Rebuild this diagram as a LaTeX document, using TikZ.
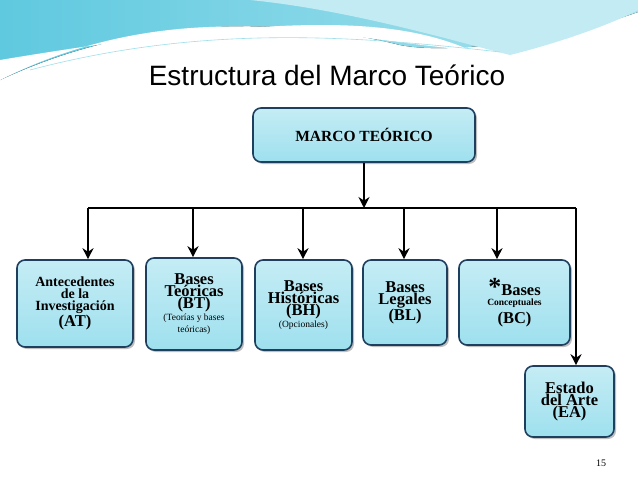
\documentclass[tikz,border=0pt]{standalone}
\usepackage{fontspec}
\setmainfont{Liberation Serif}
\newfontfamily\titlefont{Liberation Sans}
\usetikzlibrary{arrows.meta,shadows}
\definecolor{bd}{HTML}{1F3F5F}
\definecolor{fillc}{HTML}{9EE0EE}
\definecolor{wave1}{HTML}{5FC9DF}
\definecolor{wave2}{HTML}{A9E3EE}
\newcommand{\fA}{\fontsize{14}{16}\selectfont}
\newcommand{\fB}{\fontsize{16.5}{18}\selectfont}
\newcommand{\fC}{\fontsize{9.5}{10}\selectfont\mdseries}
\tikzset{
  box/.style={draw=bd,line width=1.6pt,rounded corners=8pt,top color=white!40!fillc,bottom color=fillc,
    drop shadow={shadow xshift=2pt,shadow yshift=-2pt,opacity=0.5},align=center,font=\bfseries,inner sep=2pt},
  conn/.style={line width=1.6pt,-{Stealth[length=11pt,width=11pt]}},
  ln/.style={line width=1.6pt}
}
\begin{document}
\begin{tikzpicture}[x=1pt,y=-1pt]
\useasboundingbox (0,0) rectangle (638,479);
\fill[white] (0,0) rectangle (638,479);
% header waves
\fill[left color=wave1,right color=wave2] (0,0) -- (638,0) -- (638,12) .. controls (560,40) and (450,55) .. (400,45) .. controls (300,20) and (150,10) .. (0,80) -- cycle;
\fill[white] (0,80) .. controls (100,30) and (200,20) .. (300,30) .. controls (360,36) and (420,46) .. (470,50) .. controls (400,20) and (300,10) .. (0,60) -- cycle;
\fill[wave2!70!white] (250,0) .. controls (350,10) and (450,40) .. (510,55) .. controls (570,40) and (620,20) .. (638,10) -- (638,0) -- cycle;
\draw[wave1!60!white,line width=0.6pt] (30,70) .. controls (200,25) and (350,35) .. (500,52);
\node[font=\titlefont\fontsize{28}{30}\selectfont] (title) at (327,75) {Estructura del Marco Teórico};
\node[box,minimum width=222pt,minimum height=54pt,font=\bfseries\fontsize{15.5}{17}\selectfont] (mt) at (364,135) {MARCO TEÓRICO};
\node[box,minimum width=116pt,minimum height=87pt] (at) at (75,303.5) {\fA Antecedentes\\\fA de la\\\fA Investigación\\\fB (AT)};
\node[box,minimum width=96pt,minimum height=92pt] (bt) at (194,304) {\fB Bases\\\fB Teóricas\\\fB (BT)\\\fC (Teorías y bases\\\fC teóricas)};
\node[box,minimum width=97pt,minimum height=90pt] (bh) at (303.5,305) {\fB Bases\\\fB Históricas\\\fB (BH)\\\fC (Opcionales)};
\node[box,minimum width=84pt,minimum height=85pt] (bl) at (405,302.5) {\fB Bases\\\fB Legales\\\fB (BL)};
\node[box,minimum width=111pt,minimum height=85pt] (bc) at (514.5,302.5) {\fB{\fontsize{26}{20}\selectfont *}Bases\\[-2pt]\fC\bfseries Conceptuales\\[3pt]\fB (BC)};
\node[box,minimum width=89pt,minimum height=71pt] (ea) at (569.5,401.5) {\fB Estado\\\fB del Arte\\\fB (EA)};
\node[font=\fontsize{10}{12}\selectfont] (pg) at (601,463) {15};
\coordinate (jm) at (364,208);
\coordinate (jl) at (88,208);
\coordinate (jr) at (576,208);
\draw[conn] (mt) -- (jm);
\draw[ln] (jl) -- (jr);
\draw[conn] (jl) -- (jl |- at.north);
\draw[conn] (193,208) -- (193,0 |- bt.north);
\draw[conn] (303,208) -- (303,0 |- bh.north);
\draw[conn] (404,208) -- (404,0 |- bl.north);
\draw[conn] (497,208) -- (497,0 |- bc.north);
\draw[conn] (jr) -- (jr |- ea.north);
\end{tikzpicture}
\end{document}
